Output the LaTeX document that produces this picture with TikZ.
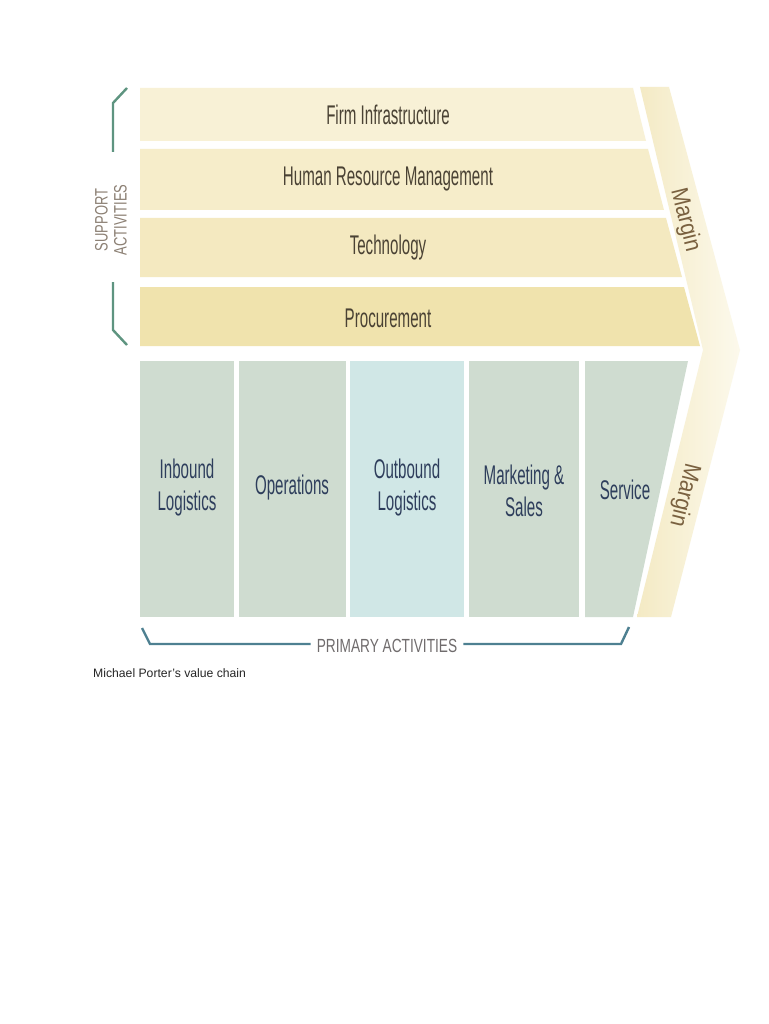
\documentclass[tikz,border=0pt]{standalone}
\usepackage{fontspec}
\setmainfont{Liberation Sans}
\newfontfamily\narrowfont[FakeStretch=0.56]{Liberation Sans}
\newfontfamily\capsfont[FakeStretch=0.72]{Liberation Sans}
\newfontfamily\marginfont[FakeStretch=0.88]{Liberation Sans}

\definecolor{firmfill}{HTML}{F8F1D6}
\definecolor{hrmfill}{HTML}{F6EDCA}
\definecolor{techfill}{HTML}{F4E9C0}
\definecolor{procfill}{HTML}{F0E3AD}
\definecolor{primfill}{HTML}{CFDCD0}
\definecolor{outfill}{HTML}{D0E7E6}
\definecolor{marginleft}{HTML}{F4EAC4}
\definecolor{marginright}{HTML}{FCF9EC}
\definecolor{supporttext}{HTML}{4A4234}
\definecolor{primarytext}{HTML}{2E3E5C}
\definecolor{margintext}{HTML}{7A6140}
\definecolor{bracketgreen}{HTML}{5E9480}
\definecolor{bracketteal}{HTML}{4E8091}
\definecolor{captiongray}{HTML}{8C8074}

\tikzset{
  supportlabel/.style={font=\narrowfont\fontsize{27}{30}\selectfont, text=supporttext},
  primarylabel/.style={font=\narrowfont\fontsize{27}{32}\selectfont, text=primarytext, align=center},
  marginlabel/.style={font=\marginfont\fontsize{24}{26}\selectfont, text=margintext, inner sep=1pt},
  bracket/.style={line width=2.4pt, line join=miter},
}

\begin{document}
\begin{tikzpicture}[x=1pt,y=-1pt]
    \useasboundingbox[fill=white] (0,0) rectangle (768,1024);

    % margin chevron
    \shade[left color=marginleft, right color=marginright]
        (640,87) -- (669,87) -- (740,350) -- (671,617) -- (637,617) -- (703,350) -- cycle;

    % support activities
    \fill[firmfill] (140,88) -- (633,88) -- (646,141) -- (140,141) -- cycle;
    \fill[hrmfill]  (140,149) -- (648,149) -- (664,210) -- (140,210) -- cycle;
    \fill[techfill] (140,218) -- (666,218) -- (682,277) -- (140,277) -- cycle;
    \fill[procfill] (140,287) -- (684,287) -- (700,346) -- (140,346) -- cycle;

    \node[supportlabel] (firm) at (388,115) {Firm Infrastructure};
    \node[supportlabel] (hrm)  at (388,179) {Human Resource Management};
    \node[supportlabel] (tech) at (388,248) {Technology};
    \node[supportlabel] (proc) at (388,318) {Procurement};

    % primary activities
    \fill[primfill] (140,361) rectangle (234,617);
    \fill[primfill] (239,361) rectangle (346,617);
    \fill[outfill]  (350,361) rectangle (464,617);
    \fill[primfill] (469,361) rectangle (579,617);
    \fill[primfill] (585,361) -- (688,361) -- (633,617) -- (585,617) -- cycle;

    \node[primarylabel] (inbound)   at (187,488) {Inbound\\Logistics};
    \node[primarylabel] (ops)       at (292,488) {Operations};
    \node[primarylabel] (outbound)  at (407,488) {Outbound\\Logistics};
    \node[primarylabel] (marketing) at (524,491) {Marketing \&\\Sales};
    \node[primarylabel] (service)   at (625,490) {Service};

    \node[marginlabel, rotate=-76]  (margintop) at (685,220) {Margin};
    \node[marginlabel, rotate=-104] (marginbot) at (684,495) {Margin};

    % brackets
    \coordinate (sa) at (127,88);
    \coordinate (sb) at (113,103);
    \coordinate (sc) at (113,152);
    \coordinate (sd) at (113,282);
    \coordinate (se) at (113,330);
    \coordinate (sf) at (127,345);
    \draw[bracket, bracketgreen] (sa) -- (sb) -- (sc);
    \draw[bracket, bracketgreen] (sd) -- (se) -- (sf);
    \node[font=\capsfont\fontsize{18}{19}\selectfont, text=captiongray, align=center, rotate=90]
        (support) at (111,220) {SUPPORT\\ACTIVITIES};

    \node[font=\capsfont\fontsize{19}{20}\selectfont, text=captiongray!70!primarytext, inner sep=6pt]
        (primary) at (387,646) {PRIMARY ACTIVITIES};
    \coordinate (pa) at (142,628);
    \coordinate (pb) at (150,644);
    \coordinate (pc) at (621,644);
    \coordinate (pd) at (629,627);
    \draw[bracket, bracketteal] (pa) -- (pb) -- (primary.west |- pb);
    \draw[bracket, bracketteal] (primary.east |- pc) -- (pc) -- (pd);

    % caption
    \node[anchor=west, font=\fontsize{12.2}{14}\selectfont, text=black!85, inner sep=0pt]
        (caption) at (93,673) {Michael Porter{\char"27}s value chain};
\end{tikzpicture}
\end{document}
